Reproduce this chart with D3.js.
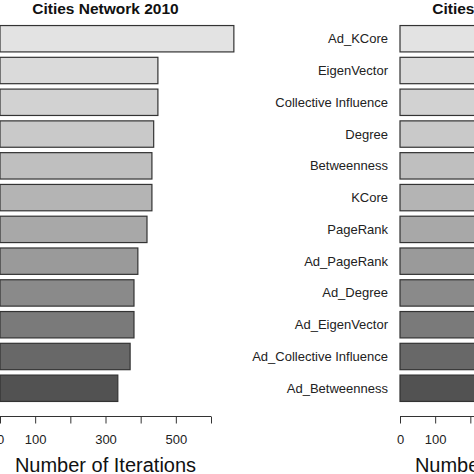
<!DOCTYPE html><html><head><meta charset="utf-8"><script src="https://cdn.jsdelivr.net/npm/d3@7"></script>
<style>body{margin:0;background:#fff}</style></head><body><svg id="c" width="474" height="474"></svg>
<script>
const categories=["Ad_KCore","EigenVector","Collective Influence","Degree","Betweenness","KCore","PageRank","Ad_PageRank","Ad_Degree","Ad_EigenVector","Ad_Collective Influence","Ad_Betweenness"];
const values2010=[665,449,449,437,432,432,418,392,381,381,370,335];
const valuesRight=[640,600,595,585,580,575,560,540,520,515,505,480];
const fills=["#e3e3e3","#dadada","#d2d2d2","#c9c9c9","#bfbfbf","#b4b4b4","#a8a8a8","#9a9a9a","#8a8a8a","#7a7a7a","#686868","#525252"];
const ticks=[0,100,200,300,400,500,600];
const tickLabels={0:"0",100:"100",300:"300",500:"500"};
const svg=d3.select("#c");
const y=d3.scaleBand().domain(categories).range([23,404]).paddingInner(0.17).paddingOuter(0.08);
function panel(x0,vals,title,labels){
  const x=d3.scaleLinear().domain([0,600]).range([x0,x0+211]);
  const g=svg.append("g");
  g.selectAll("rect").data(categories).join("rect")
   .attr("x",x(0)).attr("y",d=>y(d)).attr("width",(d,i)=>x(vals[i])-x(0)).attr("height",y.bandwidth())
   .attr("fill",(d,i)=>fills[i]).attr("stroke","#333").attr("stroke-width",1.2);
  const ax=g.append("g").attr("transform","translate(0,416.5)")
   .call(d3.axisBottom(x).tickValues(ticks).tickSize(7).tickSizeOuter(0).tickFormat(d=>tickLabels[d]||""));
  ax.select(".domain").attr("stroke","#333").attr("d",`M${x(0)},0H${x(600)}`);
  ax.selectAll(".tick line").attr("stroke","#333");
  ax.selectAll("text").attr("font-family","Liberation Sans, Arial").attr("font-size",13).attr("fill","#222").attr("dy","1.35em");
  g.append("text").attr("x",x(300)).attr("y",14).attr("text-anchor","middle").attr("font-family","Liberation Sans, Arial").attr("font-weight","bold").attr("font-size",15.5).attr("fill","#111").text(title);
  g.append("text").attr("x",x(300)).attr("y",472).attr("text-anchor","middle").attr("font-family","Liberation Sans, Arial").attr("font-size",20).attr("fill","#111").text("Number of Iterations");
  if(labels) g.selectAll(".lab").data(categories).join("text").attr("class","lab")
   .attr("x",x0-12).attr("y",d=>y(d)+y.bandwidth()/2).attr("dy","0.35em").attr("text-anchor","end")
   .attr("font-family","Liberation Sans, Arial").attr("font-size",13).attr("fill","#222").text(d=>d);
}
panel(0,values2010,"Cities Network 2010",true);
panel(400,valuesRight,"Cities Network 2015",true);
</script></body></html>
